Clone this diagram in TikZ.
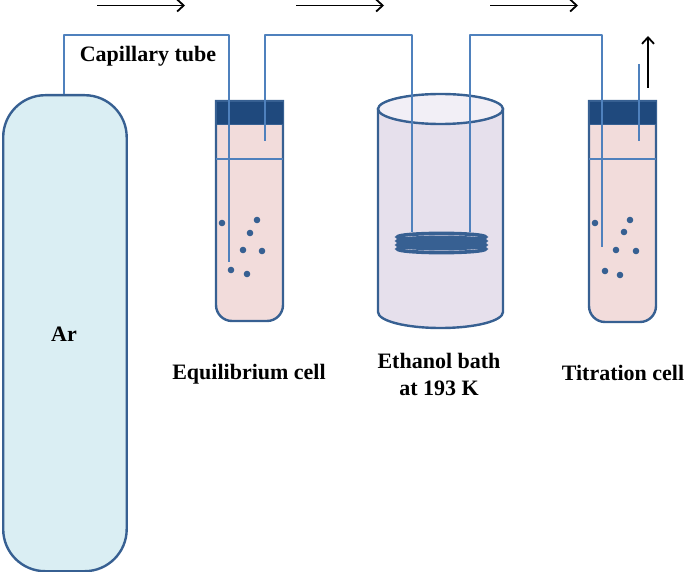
\documentclass[tikz,border=0pt]{standalone}
\usepackage{fontspec}
\setmainfont{Liberation Serif}
\usetikzlibrary{arrows.meta}
\definecolor{edge}{HTML}{376092}
\definecolor{pipe}{HTML}{4F81BD}
\definecolor{capc}{HTML}{1F497D}
\definecolor{cellc}{HTML}{F2DCDB}
\definecolor{tankc}{HTML}{DAEEF3}
\definecolor{bathc}{HTML}{E6E0EC}
\definecolor{bathtop}{HTML}{F2EFF6}
\tikzset{
  pipeline/.style={draw=pipe,line width=1.6pt,line join=round},
  flow/.style={draw=black,line width=1.8pt,-{Straight Barb[length=6.5pt,width=12pt,line width=1.8pt]}},
  lab/.style={font=\fontsize{22}{26}\selectfont\bfseries,text=black,inner sep=0pt,align=center},
  dot/.style={circle,fill=edge,draw=none,minimum size=6.6pt,inner sep=0pt},
  shell/.style={draw=edge,line width=2.4pt},
  capbox/.style={draw=edge,fill=capc,line width=1pt,minimum width=67pt,minimum height=23pt,inner sep=0pt},
  coilring/.style={draw=edge,line width=3.6pt}
}
\newcommand{\cellbody}[3]{% left x, name, bottom
  \path[shell,fill=cellc] (#1,101) [rounded corners=16pt] -- (#1,#3) -- (#1+67,#3) [sharp corners] -- (#1+67,101) -- cycle;
  \node[capbox,anchor=north west] (#2) at (#1,101) {};
  \draw[pipeline] (#1,159) -- (#1+67,159);
}
\begin{document}
\begin{tikzpicture}[x=1pt,y=-1pt]
\useasboundingbox (0,0) rectangle (685,572);
% tank
\node[shell,fill=tankc,rounded corners=42pt,minimum width=123.5pt,minimum height=476pt,inner sep=0pt,anchor=north west] (tank) at (2,94) {};
\node[lab] (ar) at (64,334) {Ar};
% cells
\cellbody{216}{capA}{321}
\cellbody{589}{capB}{322}
% bath
\path[shell,fill=bathc] (378,109) -- (378,312) .. controls (378,321) and (406,328) .. (440.5,328) .. controls (475,328) and (503,321) .. (503,312) -- (503,109) -- cycle;
\draw[shell,fill=bathtop] (440.5,109) ellipse[x radius=62.5,y radius=15];
% coil
\foreach \yy in {237,241,245,249}{
  \draw[coilring] (441.5,\yy) ellipse[x radius=44,y radius=3.6];
}
\coordinate (coilL) at (412,232);
\coordinate (coilR) at (470,232);
% pipes
\coordinate (p1) at (64,94);
\coordinate (e1) at (229,262);
\coordinate (s2) at (265,141);
\coordinate (e3) at (602,247);
\draw[pipeline] (p1) -- (64,35) -- (229,35) -- (e1);
\draw[pipeline] (s2) -- (265,35) -- (412,35) -- (coilL);
\draw[pipeline] (coilR) -- (470,35) -- (602,35) -- (e3);
\coordinate (v1) at (639,64);
\coordinate (v2) at (639,141);
\draw[pipeline] (v1) -- (v2);
% dots
\foreach \i/\x/\y in {a/222/223,b/257/220,c/250/233,d/243/250,e/262/251,f/231/270,g/247/274,h/595/223,i/630/220,j/624/232,k/616/250,l/636/251,m/605/271,n/620/275}{
  \node[dot] (dot\i) at (\x,\y) {};
}
% flow arrows
\coordinate (a1s) at (97,5.5); \coordinate (a1e) at (185,5.5);
\coordinate (a2s) at (296,5.5); \coordinate (a2e) at (384,5.5);
\coordinate (a3s) at (490,5.5); \coordinate (a3e) at (578,5.5);
\coordinate (a4s) at (648,88); \coordinate (a4e) at (648,36);
\draw[flow] (a1s) -- (a1e);
\draw[flow] (a2s) -- (a2e);
\draw[flow] (a3s) -- (a3e);
\draw[flow] (a4s) -- (a4e);
% labels
\node[lab] (cap) at (148,56) {Capillary tube};
\node[lab] (eq) at (249,374) {Equilibrium cell};
\node[lab] (eth) at (439,374) {Ethanol bath\\[1pt]at 193 K};
\node[lab] (tit) at (623,373) {Titration cell};
\end{tikzpicture}
\end{document}
